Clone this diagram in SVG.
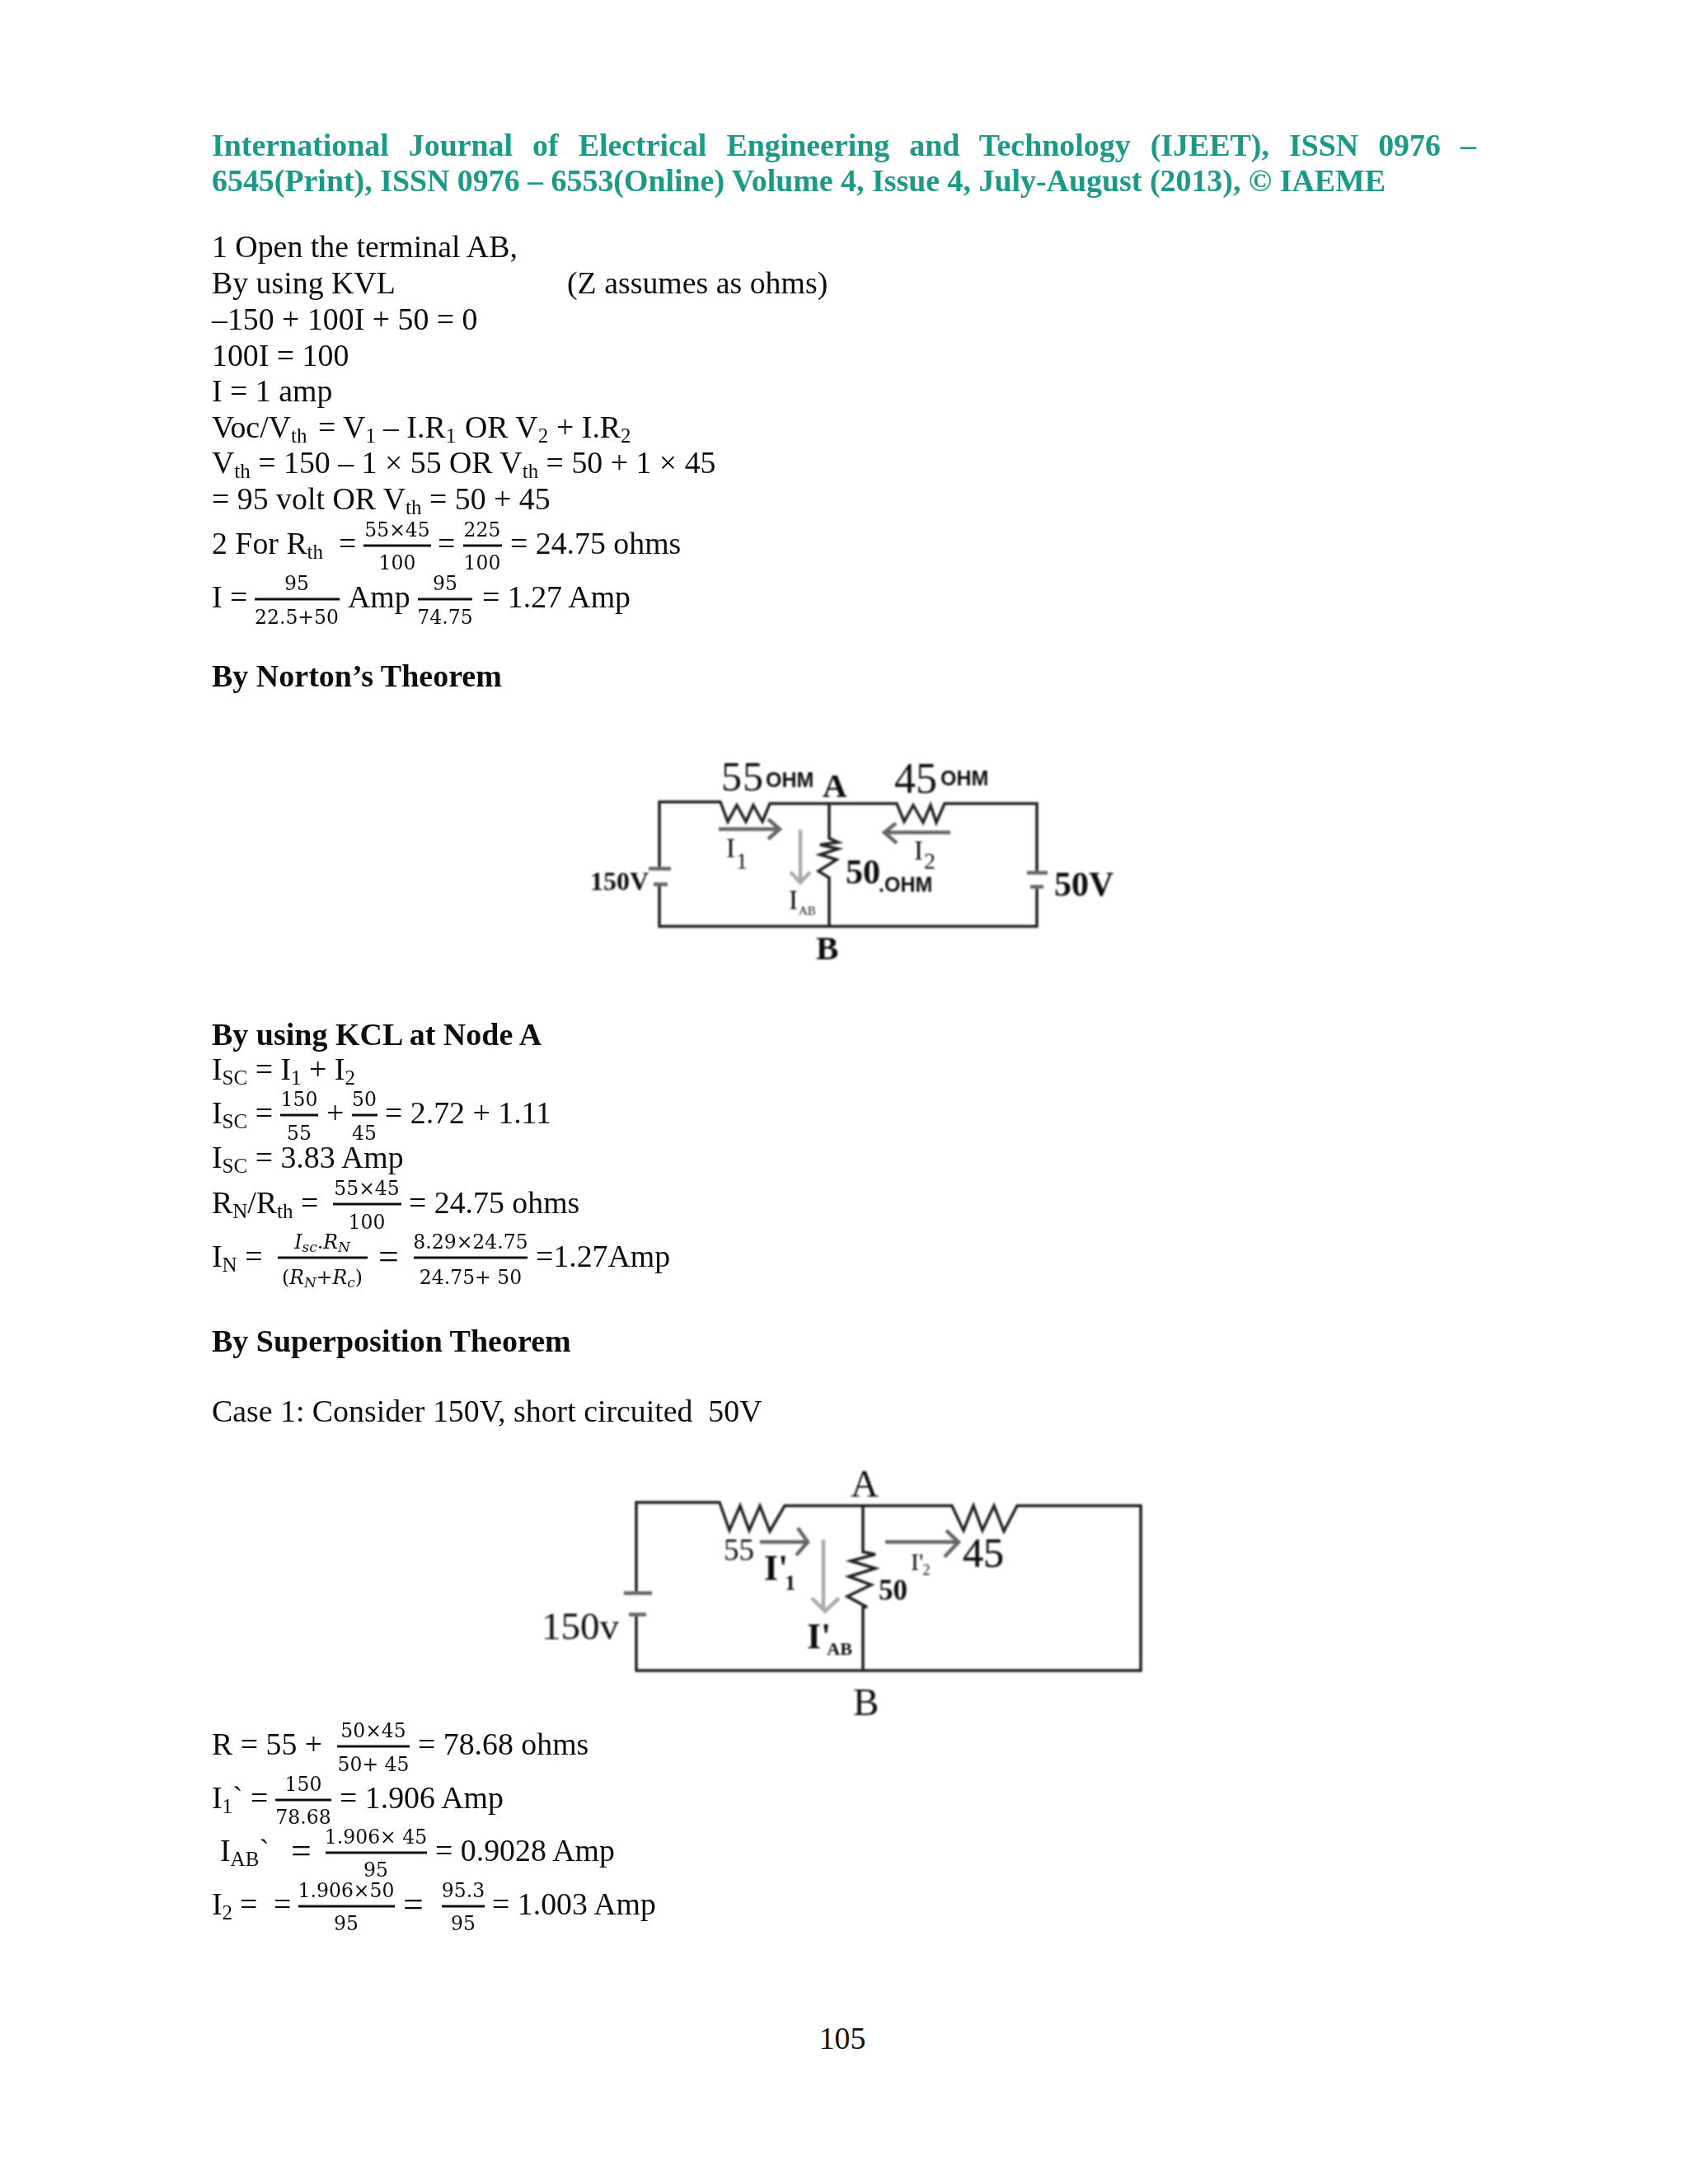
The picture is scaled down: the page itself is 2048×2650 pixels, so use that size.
<svg xmlns="http://www.w3.org/2000/svg" width="2048" height="2650" viewBox="0 0 2048 2650">
<defs>
<filter id="soft" x="-5%" y="-5%" width="110%" height="110%"><feGaussianBlur stdDeviation="0.8"/></filter>
<filter id="softer" x="-2%" y="-2%" width="104%" height="104%"><feGaussianBlur stdDeviation="0.4"/></filter>
</defs>
<style>
text{font-family:"Liberation Serif","Times New Roman",serif;fill:#111}
.t{font-size:37.85px}
.e{font-size:44px}
.h{font-size:37.9px;font-weight:bold;fill:#1a9a86}
.b{font-size:38px;font-weight:bold}
.s{font-size:25px}
.f{font-family:"DejaVu Serif",serif;font-size:23.5px;text-anchor:middle}
.i{font-style:italic}
.bar{stroke:#111;stroke-width:3;fill:none}
.w{stroke:#222;stroke-width:3.5;fill:none}
.g{stroke:#666;stroke-width:4.5;fill:none}
.lg{stroke:#aaa;stroke-width:4.5;fill:none}
.o{font-family:"Liberation Sans",Arial,sans-serif;font-weight:bold;font-size:25px}
.cb{font-weight:bold}
</style>
<rect width="2048" height="2650" fill="#fff"/>
<g id="header" filter="url(#softer)">
<text class="h" x="257" y="189" word-spacing="14.55">International Journal of Electrical Engineering and Technology (IJEET), ISSN 0976 –</text>
<text class="h" x="257" y="232">6545(Print), ISSN 0976 – 6553(Online) Volume 4, Issue 4, July-August (2013), © IAEME</text>
</g>
<g id="thevenin-text" filter="url(#softer)">
<text class="t" x="257" y="312">1 Open the terminal AB,</text>
<text class="t" x="257" y="356">By using KVL</text>
<text class="t" x="688" y="356">(Z assumes as ohms)</text>
<text class="t" x="257" y="400">–150 + 100I + 50 = 0</text>
<text class="t" x="257" y="444">100I = 100</text>
<text class="t" x="257" y="487">I = 1 amp</text>
<text class="t" x="257" y="531">Voc/V<tspan class="s" dy="6">th</tspan><tspan x="386" dy="-6">= V</tspan><tspan class="s" dy="6">1</tspan><tspan x="465" dy="-6">– I.R</tspan><tspan class="s" dy="6">1</tspan><tspan x="564" dy="-6">OR V</tspan><tspan class="s" dy="6">2</tspan><tspan x="675" dy="-6">+ I.R</tspan><tspan class="s" dy="6">2</tspan></text>
<text class="t" x="257" y="574">V<tspan class="s" dy="6">th</tspan><tspan dy="-6"> = 150 – 1 × 55 OR V</tspan><tspan class="s" dy="6">th</tspan><tspan dy="-6"> = 50 + 1 × 45</tspan></text>
<text class="t" x="257" y="618">= 95 volt OR V<tspan class="s" dy="6">th</tspan><tspan dy="-6"> = 50 + 45</tspan></text>
<text class="t" x="257" y="672">2 For R<tspan class="s" dy="6">th</tspan></text>
<text class="t" x="411" y="672">=</text>
<text class="f" x="482" y="651">55×45</text><path class="bar" d="M441 662H523"/><text class="f" x="482" y="691">100</text>
<text class="t" x="531" y="672">=</text>
<text class="f" x="585" y="651">225</text><path class="bar" d="M562 662H609"/><text class="f" x="585" y="691">100</text>
<text class="t" x="619" y="672">= 24.75 ohms</text>
<text class="t" x="257" y="737">I =</text>
<text class="f" x="360" y="716">95</text><path class="bar" d="M309 727H412"/><text class="f" x="360" y="757">22.5+50</text>
<text class="t" x="422" y="737">Amp</text>
<text class="f" x="540" y="716">95</text><path class="bar" d="M507 727H573"/><text class="f" x="540" y="757">74.75</text>
<text class="t" x="585" y="737">= 1.27 Amp</text>
<text class="b" x="257" y="833">By Norton’s Theorem</text>
</g>
<g id="norton-circuit" filter="url(#soft)">
<g id="norton-connectors">
<polyline class="w" points="800,1054 800,973 874,973 883,997 894,977 905,997 914,977 925,997 934,975 1088,975 1097,997 1108,977 1120,998 1129,977 1136,998 1146,975 1258,975 1258,1059"/>
<path class="w" d="M1258 1076V1124H800V1073"/>
<polyline class="w" points="1006,975 1006,1017 1017,1022 995,1025 1017,1030 995,1037 1015,1043 993,1057 1006,1065 1006,1124"/>
<path class="g" d="M787 1054H814M793 1073H810M1246 1059H1271M1250 1076H1266"/>
<path class="g" d="M872 1006H945M932 994L946 1006L932 1018"/>
<path class="g" d="M1073 1010H1153M1087 999L1073 1010L1088 1023"/>
<path class="lg" d="M971 1007V1070M959 1058L971 1071L983 1058"/>
</g>
<g id="norton-labels">
<text x="875" y="959" font-size="50" letter-spacing="1">55</text><text class="o" x="929" y="955">OHM</text>
<text class="cb" x="998" y="967" font-size="41">A</text>
<text x="1085" y="962" font-size="52">45</text><text class="o" x="1141" y="953">OHM</text>
<text x="881" y="1040" font-size="33">I</text><text x="893" y="1054" font-size="28">1</text>
<text x="1109" y="1043" font-size="33">I</text><text x="1121" y="1054" font-size="28">2</text>
<text x="957" y="1103" font-size="33">I</text><text x="969" y="1110" font-size="15">AB</text>
<text class="cb" x="1026" y="1072" font-size="42">50</text><text class="o" x="1066" y="1082">.OHM</text>
<text class="cb" x="716" y="1080" font-size="32">150V</text>
<text class="cb" x="1279" y="1087" font-size="42">50V</text>
<text class="cb" x="990" y="1164" font-size="41">B</text>
</g>
</g>
<g id="kcl-text" filter="url(#softer)">
<text class="b" x="257" y="1268">By using KCL at Node A</text>
<text class="t" x="257" y="1310">I<tspan class="s" dy="6">SC</tspan><tspan dy="-6"> = I</tspan><tspan class="s" dy="6">1</tspan><tspan dy="-6"> + I</tspan><tspan class="s" dy="6">2</tspan></text>
<text class="t" x="257" y="1363">I<tspan class="s" dy="6">SC</tspan><tspan dy="-6"> =</tspan></text>
<text class="f" x="363" y="1342">150</text><path class="bar" d="M340 1353H386"/><text class="f" x="363" y="1383">55</text>
<text class="t" x="396" y="1363">+</text>
<text class="f" x="442" y="1342">50</text><path class="bar" d="M427 1353H458"/><text class="f" x="442" y="1383">45</text>
<text class="t" x="467" y="1363">= 2.72 + 1.11</text>
<text class="t" x="257" y="1417">I<tspan class="s" dy="6">SC</tspan><tspan dy="-6"> = 3.83 Amp</tspan></text>
<text class="t" x="257" y="1472">R<tspan class="s" dy="6">N</tspan><tspan dy="-6">/R</tspan><tspan class="s" dy="6">th</tspan><tspan dy="-6"> =</tspan></text>
<text class="f" x="445" y="1450">55×45</text><path class="bar" d="M404 1461H487"/><text class="f" x="445" y="1491">100</text>
<text class="t" x="496" y="1472">= 24.75 ohms</text>
<text class="t" x="257" y="1537">I<tspan class="s" dy="6">N</tspan><tspan dy="-6"> =</tspan></text>
<text class="f" x="391" y="1515"><tspan class="i">I<tspan font-size="17" dy="4">sc</tspan></tspan><tspan dy="-4">.</tspan><tspan class="i">R<tspan font-size="17" dy="4">N</tspan></tspan></text><path class="bar" d="M337 1526H446"/><text class="f" x="391" y="1558">(<tspan class="i">R<tspan font-size="17" dy="4">N</tspan></tspan><tspan dy="-4">+</tspan><tspan class="i">R<tspan font-size="17" dy="4">c</tspan></tspan><tspan dy="-4">)</tspan></text>
<text class="e" x="459" y="1539">=</text>
<text class="f" x="571" y="1515">8.29×24.75</text><path class="bar" d="M502 1526H640"/><text class="f" x="571" y="1558">24.75+ 50</text>
<text class="t" x="650" y="1537">=1.27Amp</text>
<text class="b" x="257" y="1640">By Superposition Theorem</text>
<text class="t" x="257" y="1725" xml:space="preserve">Case 1: Consider 150V, short circuited  50V</text>
</g>
<g id="superposition-circuit" filter="url(#soft)">
<g id="superposition-connectors">
<polyline class="w" points="772,1933 772,1823 873,1823 885,1857 898,1827 909,1857 922,1827 934,1858 952,1827 1155,1827 1169,1857 1181,1827 1192,1857 1206,1827 1218,1858 1234,1827 1384,1827 1384,2027 772,2027 772,1959"/>
<polyline class="w" points="1047,1827 1047,1883 1062,1886 1032,1894 1062,1903 1030,1913 1057,1923 1028,1937 1052,1950 1047,1950 1047,2027"/>
<path class="g" d="M757 1933H791M763 1959H784"/>
<path class="g" d="M922 1871H979M968 1854L980 1871L966 1887"/>
<path class="g" d="M1074 1871H1163M1148 1857L1163 1871L1146 1889"/>
<path class="lg" d="M999 1868V1953M985 1939L1001 1955L1018 1939"/>
</g>
<g id="superposition-labels">
<text x="1032" y="1816" font-size="47">A</text>
<text x="1035" y="2081" font-size="47">B</text>
<text x="878" y="1893" font-size="37" fill="#444">55</text>
<text class="cb" x="927" y="1917" font-size="44">I'<tspan font-size="26" dx="-4" dy="12">1</tspan></text>
<text x="1105" y="1905" font-size="30" fill="#444">I'<tspan font-size="18" dx="-1" dy="6">2</tspan></text>
<text x="1168" y="1901" font-size="50" fill="#333" stroke="#333" stroke-width="0.6">45</text>
<text class="cb" x="1066" y="1941" font-size="35" fill="#333">50</text>
<text x="657" y="1989" font-size="47" fill="#333">150v</text>
<text class="cb" x="979" y="2000" font-size="44">I'<tspan font-size="22" dx="-5" dy="8">AB</tspan></text>
</g>
</g>
<g id="superposition-text" filter="url(#softer)">
<text class="t" x="257" y="2129">R = 55 +</text>
<text class="f" x="453" y="2108">50×45</text><path class="bar" d="M409 2119H497"/><text class="f" x="453" y="2149">50+ 45</text>
<text class="t" x="507" y="2129">= 78.68 ohms</text>
<text class="t" x="257" y="2194">I<tspan class="s" dy="6">1</tspan><tspan dy="-6">`</tspan></text>
<text class="t" x="304" y="2194">=</text>
<text class="f" x="368" y="2173">150</text><path class="bar" d="M334 2184H402"/><text class="f" x="368" y="2213">78.68</text>
<text class="t" x="412" y="2194">= 1.906 Amp</text>
<text class="t" x="267" y="2258">I<tspan class="s" dy="6">AB</tspan><tspan dy="-6">`</tspan></text>
<text class="e" x="353" y="2260">=</text>
<text class="f" x="456" y="2237">1.906× 45</text><path class="bar" d="M395 2248H518"/><text class="f" x="456" y="2277">95</text>
<text class="t" x="528" y="2258">= 0.9028 Amp</text>
<text class="t" x="257" y="2323">I<tspan class="s" dy="6">2</tspan></text>
<text class="t" x="291" y="2323">=</text><text class="t" x="332" y="2323">=</text>
<text class="f" x="420" y="2302">1.906×50</text><path class="bar" d="M362 2313H479"/><text class="f" x="420" y="2342">95</text>
<text class="e" x="489" y="2325">=</text>
<text class="f" x="562" y="2302">95.3</text><path class="bar" d="M536 2313H588"/><text class="f" x="562" y="2342">95</text>
<text class="t" x="597" y="2323">= 1.003 Amp</text>
</g>
<g id="footer"><text class="t" x="1022" y="2486" text-anchor="middle">105</text></g>
</svg>
